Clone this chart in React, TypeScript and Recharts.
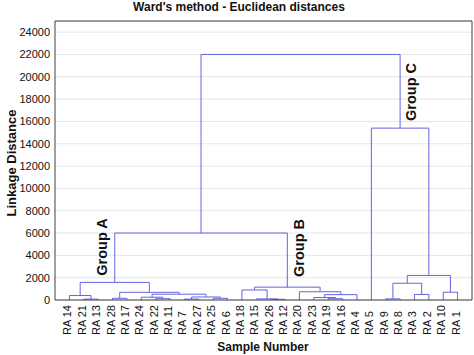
import React from 'react';
import { LineChart, Line, XAxis, YAxis, CartesianGrid, ReferenceDot } from 'recharts';

// Leaf order along the x axis
const leafLabels = [
  'RA 14', 'RA 21', 'RA 13', 'RA 28', 'RA 17', 'RA 24', 'RA 22', 'RA 11', 'RA 7', 'RA 27', 'RA 25', 'RA 6',
  'RA 18', 'RA 15', 'RA 26', 'RA 12', 'RA 20', 'RA 23', 'RA 19', 'RA 16', 'RA 4',
  'RA 5', 'RA 9', 'RA 8', 'RA 3', 'RA 2', 'RA 10', 'RA 1',
];

// Linkage table: node ids 0..27 are leaves, merge i creates node 28 + i
const mergeLeft = [1, 0, 3, 6, 5, 8, 10, 33, 32, 30, 29, 14, 13, 12, 18, 17, 43, 16, 41, 38, 22, 24, 48, 26, 50, 21, 47];
const mergeRight = [2, 28, 4, 7, 31, 9, 11, 34, 35, 36, 37, 15, 39, 40, 19, 42, 20, 44, 45, 46, 23, 25, 49, 27, 51, 52, 53];
const mergeHeight = [80, 400, 150, 120, 250, 80, 150, 270, 520, 690, 1580, 60, 100, 900, 120, 220, 480, 740, 1150, 6000, 100, 500, 1500, 700, 2200, 15400, 22000];

const yTicks = [0, 2000, 4000, 6000, 8000, 10000, 12000, 14000, 16000, 18000, 20000, 22000, 24000];

const groupNames = ['Group A', 'Group B', 'Group C'];
const groupLeafPos = [2.27, 15.98, 23.77];
const groupLevel = [4750, 4660, 18640];

const leafIdx = leafLabels.map((_, i) => i);

// Build link (U-shape) polylines from the linkage table
const nodeX: number[] = leafLabels.map((_, i) => i);
const nodeH: number[] = leafLabels.map(() => 0);
const links = mergeHeight.map((h, i) => {
  const l = mergeLeft[i];
  const r = mergeRight[i];
  const pts = [
    { x: nodeX[l], y: nodeH[l] },
    { x: nodeX[l], y: h },
    { x: nodeX[r], y: h },
    { x: nodeX[r], y: nodeH[r] },
  ];
  nodeX.push((nodeX[l] + nodeX[r]) / 2);
  nodeH.push(h);
  return pts;
});

const FONT = 'Liberation Sans, Arial, sans-serif';
const LINE = '#6464e0';
const FRAME = '#404040';

const LeafTick = (props: any) => {
  const { x, y, payload } = props;
  const bx = x + 2;
  const by = y + 35;
  return (
    <text x={bx} y={by} transform={`rotate(-90, ${bx}, ${by})`} textAnchor="start"
      fontSize={11} fontFamily={FONT} fill="#111">
      {leafLabels[payload.value]}
    </text>
  );
};

const GroupShape = (text: string) => (p: any) => (
  <text x={p.cx} y={p.cy} transform={`rotate(-90, ${p.cx}, ${p.cy})`} textAnchor="middle"
    dominantBaseline="central" fontSize={14.5} fontWeight="bold" fontFamily={FONT} fill="#111">
    {text}
  </text>
);

export default function App() {
  return (
    <div style={{ position: 'absolute', left: 0, top: 0, width: 474, height: 355, background: '#fff' }}>
      <LineChart width={474} height={355} margin={{ top: 21, right: 2, bottom: 1, left: 10 }}>
        <CartesianGrid vertical={false} stroke="#e6e6e6" />
        <XAxis type="number" dataKey="x" domain={[-1, 28]} ticks={leafIdx} interval={0}
          allowDataOverflow tick={<LeafTick />} tickLine={false} tickSize={0} tickMargin={0}
          height={54} axisLine={{ stroke: FRAME }} />
        <XAxis xAxisId="top" orientation="top" type="number" dataKey="x" domain={[-1, 28]} ticks={leafIdx}
          interval={0} allowDataOverflow mirror height={1} tick={false} tickSize={3}
          tickLine={{ stroke: FRAME }} axisLine={{ stroke: FRAME }} />
        <YAxis type="number" domain={[0, 25000]} ticks={yTicks} interval={0} allowDataOverflow
          width={45} tickLine={false} tickSize={3} tickMargin={2} axisLine={{ stroke: FRAME }}
          tick={{ fontSize: 11, fill: '#111', fontFamily: FONT }} />
        <YAxis yAxisId="inner" type="number" domain={[0, 25000]} ticks={yTicks} interval={0} mirror
          width={1} tick={false} tickSize={3} tickLine={{ stroke: FRAME }} axisLine={false} />
        <YAxis yAxisId="right" orientation="right" type="number" domain={[0, 25000]} ticks={yTicks}
          interval={0} mirror width={1} tick={false} tickSize={3} tickLine={{ stroke: FRAME }}
          axisLine={{ stroke: FRAME }} />
        {links.map((pts, i) => (
          <Line key={i} data={pts} dataKey="y" type="linear" stroke={LINE} strokeWidth={1}
            dot={false} activeDot={false} isAnimationActive={false} />
        ))}
        {groupNames.map((g, i) => (
          <ReferenceDot key={g} x={groupLeafPos[i]} y={groupLevel[i]} r={0} shape={GroupShape(g)} />
        ))}
      </LineChart>
      <svg width={474} height={355} style={{ position: 'absolute', left: 0, top: 0, pointerEvents: 'none' }}>
        <text x={239} y={11} textAnchor="middle" fontSize={12} fontWeight="bold" fontFamily={FONT} fill="#111">
          Ward's method - Euclidean distances
        </text>
        <text x={11} y={163} transform="rotate(-90, 11, 163)" textAnchor="middle" dominantBaseline="central"
          fontSize={13} fontWeight="bold" fontFamily={FONT} fill="#111">
          Linkage Distance
        </text>
        <text x={263} y={351} textAnchor="middle" fontSize={12} fontWeight="bold" fontFamily={FONT} fill="#111">
          Sample Number
        </text>
      </svg>
    </div>
  );
}
